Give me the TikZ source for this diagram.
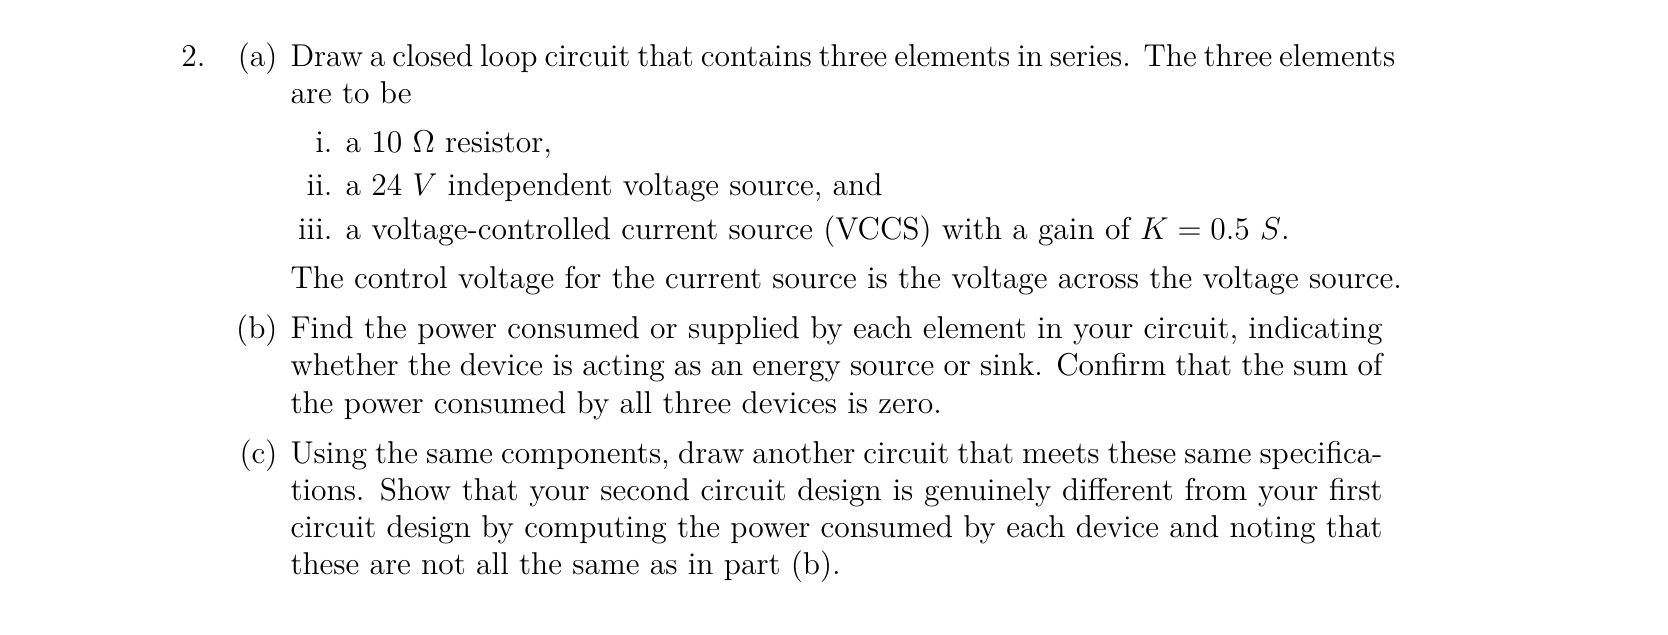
\documentclass[tikz,border=0pt]{standalone}
\tikzset{
  txt/.style={anchor=base west,inner sep=0pt,font=\fontsize{12}{14}\selectfont},
  lab/.style={anchor=base east,inner sep=0pt,font=\fontsize{12}{14}\selectfont},
}
\newcommand{\jl}[1]{\makebox[1092\unitpx][s]{#1}}
\newlength{\unitpx}\setlength{\unitpx}{0.38pt}
\begin{document}
\begin{tikzpicture}[x=0.38pt,y=-0.38pt]
\useasboundingbox (0,0) rectangle (1668,635);
\node[lab] (n2) at (206,67) {2.};
\node[lab] (la) at (278,67) {(a)};
\node[txt] (a1) at (290,67) {\jl{Draw a closed loop circuit that contains three elements in series. The three elements}};
\node[txt] (a2) at (290,104) {are to be};
\node[lab] (li) at (333,153) {i.};
\node[txt] (i1) at (345,153) {a 10 $\Omega$ resistor,};
\node[lab] (lii) at (333,196) {ii.};
\node[txt] (ii1) at (345,196) {a 24 $V$ independent voltage source, and};
\node[lab] (liii) at (333,240) {iii.};
\node[txt] (iii1) at (345,240) {a voltage-controlled current source (VCCS) with a gain of $K=0.5\ S$.};
\node[txt] (a3) at (290,289) {The control voltage for the current source is the voltage across the voltage source.};
\node[lab] (lb) at (278,339) {(b)};
\node[txt] (b1) at (290,339) {\jl{Find the power consumed or supplied by each element in your circuit, indicating}};
\node[txt] (b2) at (290,376) {\jl{whether the device is acting as an energy source or sink. Confirm that the sum of}};
\node[txt] (b3) at (290,413) {the power consumed by all three devices is zero.};
\node[lab] (lc) at (278,463) {(c)};
\node[txt] (c1) at (290,463) {\jl{Using the same components, draw another circuit that meets these same specifica-}};
\node[txt] (c2) at (290,500) {\jl{tions. Show that your second circuit design is genuinely different from your first}};
\node[txt] (c3) at (290,537) {\jl{circuit design by computing the power consumed by each device and noting that}};
\node[txt] (c4) at (290,574) {these are not all the same as in part (b).};
\end{tikzpicture}
\end{document}
